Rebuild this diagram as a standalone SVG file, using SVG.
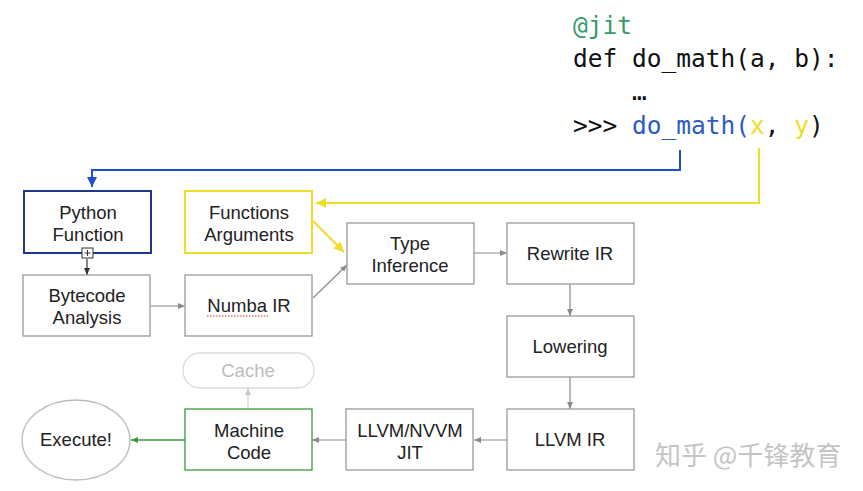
<svg xmlns="http://www.w3.org/2000/svg" width="863" height="491" viewBox="0 0 863 491">
<style>
.box{fill:#fff;stroke:#9a9a9a;stroke-width:1.3}
.lbl{font-family:"Liberation Sans",Arial,sans-serif;font-size:18.5px;fill:#222;text-anchor:middle}
.code{font-family:"DejaVu Sans Mono",monospace;font-size:24.5px;fill:#111}
.con{fill:none;stroke:#8a8a8a;stroke-width:1.2}
</style>
<defs>
<marker id="ag" markerWidth="8" markerHeight="8" refX="7" refY="4" orient="auto" markerUnits="userSpaceOnUse"><path d="M0,1 L7,4 L0,7 z" fill="#8a8a8a"/></marker>
<marker id="al" markerWidth="8" markerHeight="8" refX="7" refY="4" orient="auto" markerUnits="userSpaceOnUse"><path d="M0,1 L7,4 L0,7 z" fill="#c8c8c8"/></marker>
<marker id="agr" markerWidth="8" markerHeight="8" refX="7" refY="4" orient="auto" markerUnits="userSpaceOnUse"><path d="M0,1 L7,4 L0,7 z" fill="#3a9a3a"/></marker>
<marker id="ab" markerWidth="12" markerHeight="12" refX="10" refY="6" orient="auto" markerUnits="userSpaceOnUse"><path d="M0,1 L10,6 L0,11 z" fill="#1f4fd0"/></marker>
<marker id="ay" markerWidth="12" markerHeight="12" refX="10" refY="6" orient="auto" markerUnits="userSpaceOnUse"><path d="M0,1 L10,6 L0,11 z" fill="#f0dc2a"/></marker>
<marker id="ad" markerWidth="8" markerHeight="8" refX="7" refY="4" orient="auto" markerUnits="userSpaceOnUse"><path d="M0,1 L7,4 L0,7 z" fill="#333"/></marker>
</defs>
<rect width="863" height="491" fill="#fff"/>

<g id="code">
<text class="code" x="573" y="34" style="fill:#3a9a6e">@jit</text>
<text class="code" x="573" y="67">def do_math(a, b):</text>
<text class="code" x="632" y="100">…</text>
<text class="code" x="573" y="134">&gt;&gt;&gt; <tspan style="fill:#2a5bc0">do_math(</tspan><tspan style="fill:#f0dc2a">x</tspan>, <tspan style="fill:#f0dc2a">y</tspan>)</text>
</g>

<g id="connectors">
<path d="M680,150 V170 H92 V187" fill="none" stroke="#1f4fd0" stroke-width="2" marker-end="url(#ab)"/>
<path d="M759,148 V203 H316" fill="none" stroke="#f0dc2a" stroke-width="2" marker-end="url(#ay)"/>
<path d="M313,221 L344,252" fill="none" stroke="#f0dc2a" stroke-width="2" marker-end="url(#ay)"/>
<path d="M87,259 V275" class="con" style="stroke:#333" marker-end="url(#ad)"/>
<path d="M150,306 H185" class="con" marker-end="url(#ag)"/>
<path d="M313,298 L347,265" class="con" marker-end="url(#ag)"/>
<path d="M474,253 H507" class="con" marker-end="url(#ag)"/>
<path d="M570,284 V316" class="con" marker-end="url(#ag)"/>
<path d="M570,377 V409" class="con" marker-end="url(#ag)"/>
<path d="M507,440 H474" class="con" marker-end="url(#ag)"/>
<path d="M346,440 H312" class="con" marker-end="url(#ag)"/>
<path d="M185,440 H131" fill="none" stroke="#3a9a3a" stroke-width="1.3" marker-end="url(#agr)"/>
<path d="M248,409 V388" fill="none" stroke="#cfcfcf" stroke-width="1.2" marker-end="url(#al)"/>
</g>

<g id="python-function">
<rect x="24" y="191" width="127" height="62" fill="#fff" stroke="#1c3a8a" stroke-width="2"/>
<text class="lbl" x="88" y="219">Python</text>
<text class="lbl" x="88" y="241">Function</text>
<rect x="82" y="248" width="11" height="10" fill="#fff" stroke="#333" stroke-width="1"/>
<path d="M87.5,250 V256 M84.5,253 H90.5" stroke="#333" stroke-width="1"/>
</g>

<g id="functions-arguments">
<rect x="185" y="191" width="127" height="62" fill="#fff" stroke="#f0dc2a" stroke-width="2"/>
<text class="lbl" x="249" y="219">Functions</text>
<text class="lbl" x="249" y="241">Arguments</text>
</g>

<g id="bytecode-analysis">
<rect class="box" x="23" y="275" width="127" height="61"/>
<text class="lbl" x="87" y="302">Bytecode</text>
<text class="lbl" x="87" y="324">Analysis</text>
</g>

<g id="numba-ir">
<rect class="box" x="185" y="275" width="127" height="61"/>
<text class="lbl" x="249" y="312">Numba IR</text>
<path d="M207,316 H268" stroke="#d33" stroke-width="1" stroke-dasharray="1.5,1.5"/>
</g>

<g id="type-inference">
<rect class="box" x="347" y="223" width="127" height="61"/>
<text class="lbl" x="410" y="250">Type</text>
<text class="lbl" x="410" y="272">Inference</text>
</g>

<g id="rewrite-ir">
<rect class="box" x="507" y="223" width="127" height="61"/>
<text class="lbl" x="570" y="260">Rewrite IR</text>
</g>

<g id="lowering">
<rect class="box" x="507" y="316" width="127" height="61"/>
<text class="lbl" x="570" y="353">Lowering</text>
</g>

<g id="llvm-ir">
<rect class="box" x="507" y="409" width="127" height="61"/>
<text class="lbl" x="570" y="446">LLVM IR</text>
</g>

<g id="llvm-nvvm-jit">
<rect class="box" x="346" y="409" width="127" height="61"/>
<text class="lbl" x="410" y="437">LLVM/NVVM</text>
<text class="lbl" x="410" y="459">JIT</text>
</g>

<g id="machine-code">
<rect x="185" y="409" width="127" height="61" fill="#fff" stroke="#3a9a3a" stroke-width="1.3"/>
<text class="lbl" x="249" y="437">Machine</text>
<text class="lbl" x="249" y="459">Code</text>
</g>

<g id="cache">
<rect x="183" y="353" width="131" height="35" rx="17" fill="#fff" stroke="#dcdcdc" stroke-width="1.3"/>
<text class="lbl" x="248" y="377" style="fill:#bdbdbd">Cache</text>
</g>

<g id="execute">
<ellipse cx="76" cy="440" rx="54" ry="40" fill="#fff" stroke="#bbb" stroke-width="1.3"/>
<text class="lbl" x="76" y="446">Execute!</text>
</g>

<text x="655" y="465" style="font-family:'Noto Sans CJK SC',sans-serif;font-size:26px;fill:#c4c4c4">知乎 @千锋教育</text>
</svg>
